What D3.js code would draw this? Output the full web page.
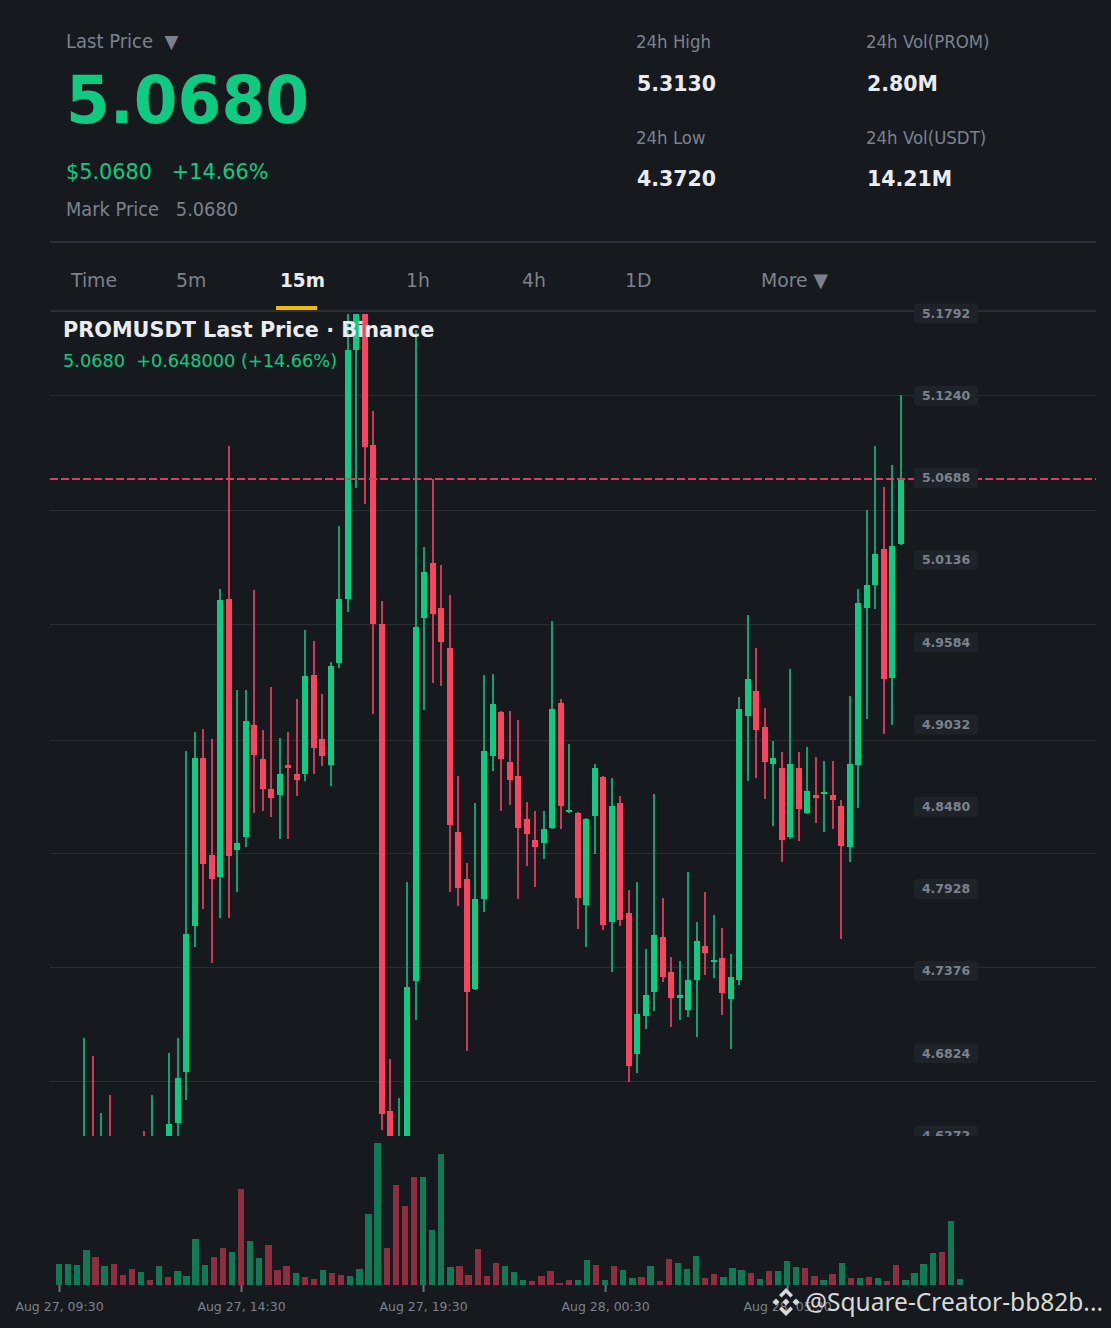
<!DOCTYPE html>
<html>
<head>
<meta charset="utf-8">
<script src="https://cdn.jsdelivr.net/npm/d3@7"></script>
<style>
   html, body { margin: 0; padding: 0; background: #161a1f; }
   svg { display: block; font-family: 'DejaVu Sans', sans-serif; }
</style>
</head>
<body>
<div id="chart"></div>
<script>
// 15m candles, Aug 27 09:30 onward. Candles below or above the visible window are estimates.
const opens = [
   4.575,4.590,4.600,4.610,4.622,4.612,4.620,4.610,4.600,4.590,
   4.605,4.598,4.612,4.606,4.6353,4.6695,4.7676,4.8804,4.8152,4.8005,
   4.9871,4.8186,4.8273,4.9025,4.8797,4.8596,4.8555,4.8757,4.8696,4.8696,
   4.9361,4.8931,4.8757,4.9442,4.9871,5.1544,5.2000,5.0906,4.9704,4.6433,
   4.6000,4.6000,4.7306,4.9744,5.0113,4.9811,4.9542,4.8307,4.7991,4.7252,
   4.7857,4.8817,4.9113,4.8777,4.8683,4.8394,4.8253,4.8233,4.8334,4.9173,
   4.8441,4.8434,4.7817,4.8414,4.8676,4.7702,4.8502,4.7763,4.6816,4.7071,
   4.7232,4.7602,4.7367,4.7192,4.7111,4.7313,4.7541,4.7434,4.7461,4.7185,
   4.7313,4.9086,4.9254,4.9012,4.8763,4.8737,4.8273,4.8737,4.8434,4.8555,
   4.8562,4.8555,4.8481,4.8206,4.8757,4.9811,4.9965,5.0207,4.9341,5.0241
];
const highs = [
   4.600,4.610,4.618,4.6923,4.6802,4.6420,4.6541,4.620,4.615,4.612,
   4.6299,4.6541,4.622,4.6823,4.6923,4.8851,4.8978,4.8998,4.8931,4.9939,
   5.0899,4.9260,4.9260,4.9932,4.8992,4.9281,4.8938,4.8978,4.9200,4.9663,
   4.9589,4.9233,4.9448,5.0362,5.2000,5.2100,5.2200,5.1134,4.9858,4.6782,
   4.6521,4.7971,5.1678,5.0221,5.0677,5.0100,4.9898,4.8683,4.8099,4.8502,
   4.9361,4.9368,4.9119,4.9119,4.9059,4.8508,4.8448,4.8448,4.9724,4.9200,
   4.8898,4.8441,4.8401,4.8763,4.8683,4.8669,4.8549,4.7917,4.7971,4.7521,
   4.8562,4.7863,4.7467,4.7441,4.8038,4.7702,4.7904,4.7749,4.7662,4.7488,
   4.9213,4.9764,4.9542,4.9139,4.8918,4.8844,4.9401,4.8844,4.8878,4.8810,
   4.8784,4.8784,4.8522,4.9220,4.9939,5.0469,5.0899,5.0624,5.0771,5.1241
];
const lows = [
   4.565,4.580,4.590,4.600,4.600,4.605,4.600,4.595,4.585,4.585,
   4.590,4.590,4.600,4.600,4.615,4.6507,4.7535,4.7790,4.7427,4.7729,
   4.7729,4.7904,4.8206,4.8434,4.8448,4.8408,4.8260,4.8260,4.8549,4.8649,
   4.8696,4.8750,4.8616,4.9408,4.9784,5.0617,5.0509,4.9099,4.6306,4.5950,
   4.5900,4.5900,4.7044,4.9126,4.9307,4.9287,4.7904,4.7810,4.6836,4.7246,
   4.7770,4.8716,4.8448,4.8488,4.7857,4.8078,4.7937,4.8125,4.8327,4.8327,
   4.8434,4.7655,4.7535,4.8159,4.7649,4.7367,4.7676,4.6628,4.6688,4.6984,
   4.7105,4.7300,4.6997,4.7044,4.7064,4.6930,4.7347,4.7326,4.7078,4.6849,
   4.7279,4.8649,4.8669,4.8528,4.8347,4.8105,4.8260,4.8246,4.8428,4.8367,
   4.8307,4.8327,4.7588,4.8105,4.8468,4.9066,4.9804,4.8965,4.9025,5.0234
];
const closes = [
   4.590,4.600,4.610,4.622,4.612,4.620,4.610,4.600,4.590,4.600,
   4.598,4.612,4.606,4.6346,4.6655,4.7622,4.8804,4.8092,4.7991,4.9865,
   4.8146,4.8233,4.9052,4.8824,4.8596,4.8535,4.8696,4.8737,4.8656,4.9354,
   4.8871,4.8817,4.9422,4.9871,5.1544,5.1950,5.0892,4.9704,4.6413,4.6100,
   4.6150,4.7266,4.9683,5.0053,4.9771,4.9583,4.8354,4.7931,4.7232,4.7857,
   4.8851,4.9166,4.8797,4.8656,4.8334,4.8293,4.8206,4.8327,4.9133,4.8481,
   4.8455,4.7863,4.8394,4.8737,4.7682,4.8481,4.7716,4.6735,4.7085,4.7212,
   4.7615,4.7333,4.7192,4.7212,4.7313,4.7575,4.7494,4.7447,4.7226,4.7333,
   4.9133,4.9334,4.8992,4.8777,4.8804,4.8253,4.8763,4.8461,4.8582,4.8535,
   4.8575,4.8522,4.8213,4.8763,4.9845,4.9965,5.0174,4.9334,5.0227,5.0680
];
// volume per candle, thousands of PROM
const volumes = [
   21,21,20,35,28,19,21,10,16,13,5,19,8,14,9,46,20,28,37,33,
   96,44,27,40,15,19,12,8,6,15,12,10,9,16,71,142,37,100,79,108,
   108,55,131,18,19,10,36,9,22,19,13,5,4,9,14,2,5,5,25,20,
   5,19,15,7,8,19,4,26,22,16,29,7,11,8,17,15,12,6,14,14,
   24,18,17,9,5,11,22,7,7,8,7,4,20,5,12,21,32,33,64,6
];

const axisIndex = [0, 20, 40, 60, 80];
const axisLabels = ['Aug 27, 09:30', 'Aug 27, 14:30', 'Aug 27, 19:30', 'Aug 28, 00:30', 'Aug 28, 05:30'];

const priceLabels = [5.1792, 5.124, 5.0688, 5.0136, 4.9584, 4.9032, 4.848, 4.7928, 4.7376, 4.6824, 4.6272];
const gridPrices = [5.1238, 5.0472, 4.9706, 4.8925, 4.8169, 4.7400, 4.6635];
const lastLine = 5.0677;

const tabs = ['Time', '5m', '15m', '1h', '4h', '1D', 'More ▼'];
const tabX = [71, 176, 280, 406, 522, 625, 761];

const width = 1111, height = 1328;
const bg = '#161a1f';
const up = '#0ecb81', down = '#fb4560';
const upWick = '#10a26c', downWick = '#ca3a52';
const upVol = '#107a54', downVol = '#8e2f41';
const gray = '#7b828d', gridColor = '#2a2e34';

const svg = d3.select('#chart').append('svg').attr('width', width).attr('height', height);
svg.append('rect').attr('width', width).attr('height', height).attr('fill', bg);

// the screenshot's glyphs are a touch narrow, so size up and squeeze x
const squeeze = 0.96;
function text(x, y, str, size, fill, weight) {
   return svg.append('text')
      .attr('transform', `translate(${x},${y}) scale(${squeeze},1)`)
      .attr('font-size', size / squeeze)
      .attr('font-weight', weight || 'normal')
      .attr('fill', fill)
      .attr('xml:space', 'preserve')
      .text(str);
}

// header
text(66, 48, 'Last Price  ▼', 18, gray);
text(66, 123, '5.0680', 63, up, 'bold');
text(66, 179, '$5.0680   +14.66%', 20.8, up);
text(66, 216, 'Mark Price   5.0680', 17.8, gray);
text(636, 48, '24h High', 16.6, gray);
text(637, 91, '5.3130', 20.5, '#eaecef', 'bold');
text(636, 144, '24h Low', 16.6, gray);
text(637, 186, '4.3720', 20.5, '#eaecef', 'bold');
text(866, 48, '24h Vol(PROM)', 16.6, gray);
text(867, 91, '2.80M', 20.5, '#eaecef', 'bold');
text(866, 144, '24h Vol(USDT)', 16.6, gray);
text(867, 186, '14.21M', 20.5, '#eaecef', 'bold');

svg.selectAll('.sep')
   .data([242, 311])
   .join('line')
   .attr('class', 'sep')
   .attr('x1', 50).attr('x2', 1096)
   .attr('y1', d => d).attr('y2', d => d)
   .attr('stroke', '#2b2f36').attr('stroke-width', 2);

// tabs
tabs.forEach((t, i) => {
   const on = t === '15m';
   text(tabX[i], 287, t, on ? 18.5 : 18.8, on ? '#eaecef' : gray, on ? 'bold' : 'normal');
});
svg.append('rect')
   .attr('x', 276).attr('y', 306)
   .attr('width', 41).attr('height', 4)
   .attr('fill', '#f0b90b');

// scales
const y = d3.scaleLinear().domain([5.1792, 4.6272]).range([313, 1135]);
const xCandle = d3.scaleLinear().domain([0, 99]).range([58.5, 901]);
const xVol = d3.scaleLinear().domain([0, 99]).range([59, 960]);
const yVol = d3.scaleLinear().domain([0, 142]).range([1285, 1143]);

// grid
svg.selectAll('.grid')
   .data(gridPrices)
   .join('line')
   .attr('class', 'grid')
   .attr('x1', 50).attr('x2', 1096)
   .attr('y1', d => Math.round(y(d)) + 0.5).attr('y2', d => Math.round(y(d)) + 0.5)
   .attr('stroke', gridColor).attr('stroke-width', 1);

const defs = svg.append('defs');
defs.append('clipPath').attr('id', 'clip')
   .append('rect').attr('x', 0).attr('y', 314).attr('width', width).attr('height', 822);
// the price pills may rise above the plot top, only the bottom one gets cut
defs.append('clipPath').attr('id', 'clip-labels')
   .append('rect').attr('x', 0).attr('y', 300).attr('width', width).attr('height', 836);

const plot = svg.append('g').attr('clip-path', 'url(#clip)');

// candles
const candles = plot.selectAll('.candle')
   .data(opens.map((o, i) => ({ i, o, h: highs[i], l: lows[i], c: closes[i] })))
   .join('g')
   .attr('class', 'candle');

candles.append('rect')
   .attr('x', d => Math.round(xCandle(d.i)) - 1)
   .attr('width', 2)
   .attr('y', d => y(d.h))
   .attr('height', d => y(d.l) - y(d.h))
   .attr('fill', d => (d.c >= d.o ? upWick : downWick))
   .attr('shape-rendering', 'crispEdges');

candles.append('rect')
   .attr('x', d => Math.round(xCandle(d.i)) - 3)
   .attr('width', 6)
   .attr('y', d => y(Math.max(d.o, d.c)))
   .attr('height', d => Math.max(1, Math.abs(y(d.o) - y(d.c))))
   .attr('fill', d => (d.c >= d.o ? up : down))
   .attr('shape-rendering', 'crispEdges');

// current price line, drawn over the candles
plot.append('line')
   .attr('x1', 50).attr('x2', 1096)
   .attr('y1', Math.round(y(lastLine))).attr('y2', Math.round(y(lastLine)))
   .attr('stroke', '#dc3f5b').attr('stroke-width', 2)
   .attr('stroke-dasharray', '8,3');

// price labels
const labels = svg.append('g')
   .attr('clip-path', 'url(#clip-labels)')
   .selectAll('.price-label')
   .data(priceLabels)
   .join('g')
   .attr('class', 'price-label')
   .attr('transform', d => `translate(946,${y(d) + 0.5})`);

labels.append('rect')
   .attr('x', -32).attr('y', -10)
   .attr('width', 64).attr('height', 20)
   .attr('rx', 3)
   .attr('fill', '#1e2329');

labels.append('text')
   .attr('text-anchor', 'middle')
   .attr('dy', '0.35em')
   .attr('font-size', 12.5)
   .attr('font-weight', 'bold')
   .attr('fill', '#7b828d')
   .text(d => d.toFixed(4));

// chart title
text(63, 337, 'PROMUSDT Last Price · Binance', 20.8, '#eaecef', 'bold');
text(63, 367, '5.0680  +0.648000 (+14.66%)', 17.7, up);

// volume
const volLeft = i => Math.round(xVol(i) - 3.1);
const volRight = i => Math.round(xVol(i) + 3.2);

svg.selectAll('.vol')
   .data(volumes)
   .join('rect')
   .attr('class', 'vol')
   .attr('x', (d, i) => volLeft(i))
   .attr('width', (d, i) => volRight(i) - volLeft(i))
   .attr('y', d => yVol(d))
   .attr('height', d => yVol(0) - yVol(d))
   .attr('fill', (d, i) => (closes[i] >= opens[i] ? upVol : downVol))
   .attr('shape-rendering', 'crispEdges');

// time axis
const xAxis = d3.axisBottom(xVol)
   .tickValues(axisIndex)
   .tickFormat((d, i) => axisLabels[i])
   .tickSize(7)
   .tickPadding(10);

const axisG = svg.append('g')
   .attr('transform', 'translate(0,1285)')
   .call(xAxis);
axisG.select('.domain').remove();
axisG.selectAll('.tick line').attr('stroke', '#6b7079').attr('stroke-width', 2);
axisG.selectAll('.tick text')
   .attr('fill', gray)
   .attr('font-size', 12.5)
   .attr('font-family', "'DejaVu Sans', sans-serif");

// watermark
const mark = svg.append('g')
   .attr('transform', 'translate(786,1302)')
   .attr('fill', '#d9d9d9');
mark.append('path')
   .attr('d', 'M0,-14 L7,-7 L4.5,-4.5 L0,-9 L-4.5,-4.5 L-7,-7 Z M0,14 L7,7 L4.5,4.5 L0,9 L-4.5,4.5 L-7,7 Z');
[[-10, 0], [10, 0], [0, 0]].forEach(([dx, dy]) => {
   mark.append('rect')
      .attr('x', -2.5).attr('y', -2.5)
      .attr('width', 5).attr('height', 5)
      .attr('transform', `translate(${dx},${dy}) rotate(45)`);
});
svg.append('text')
   .attr('x', 805).attr('y', 1311)
   .attr('font-family', "'Noto Sans', sans-serif")
   .attr('font-size', 24.5)
   .attr('fill', '#d9d9d9')
   .text('@Square-Creator-bb82b...');
</script>
</body>
</html>
